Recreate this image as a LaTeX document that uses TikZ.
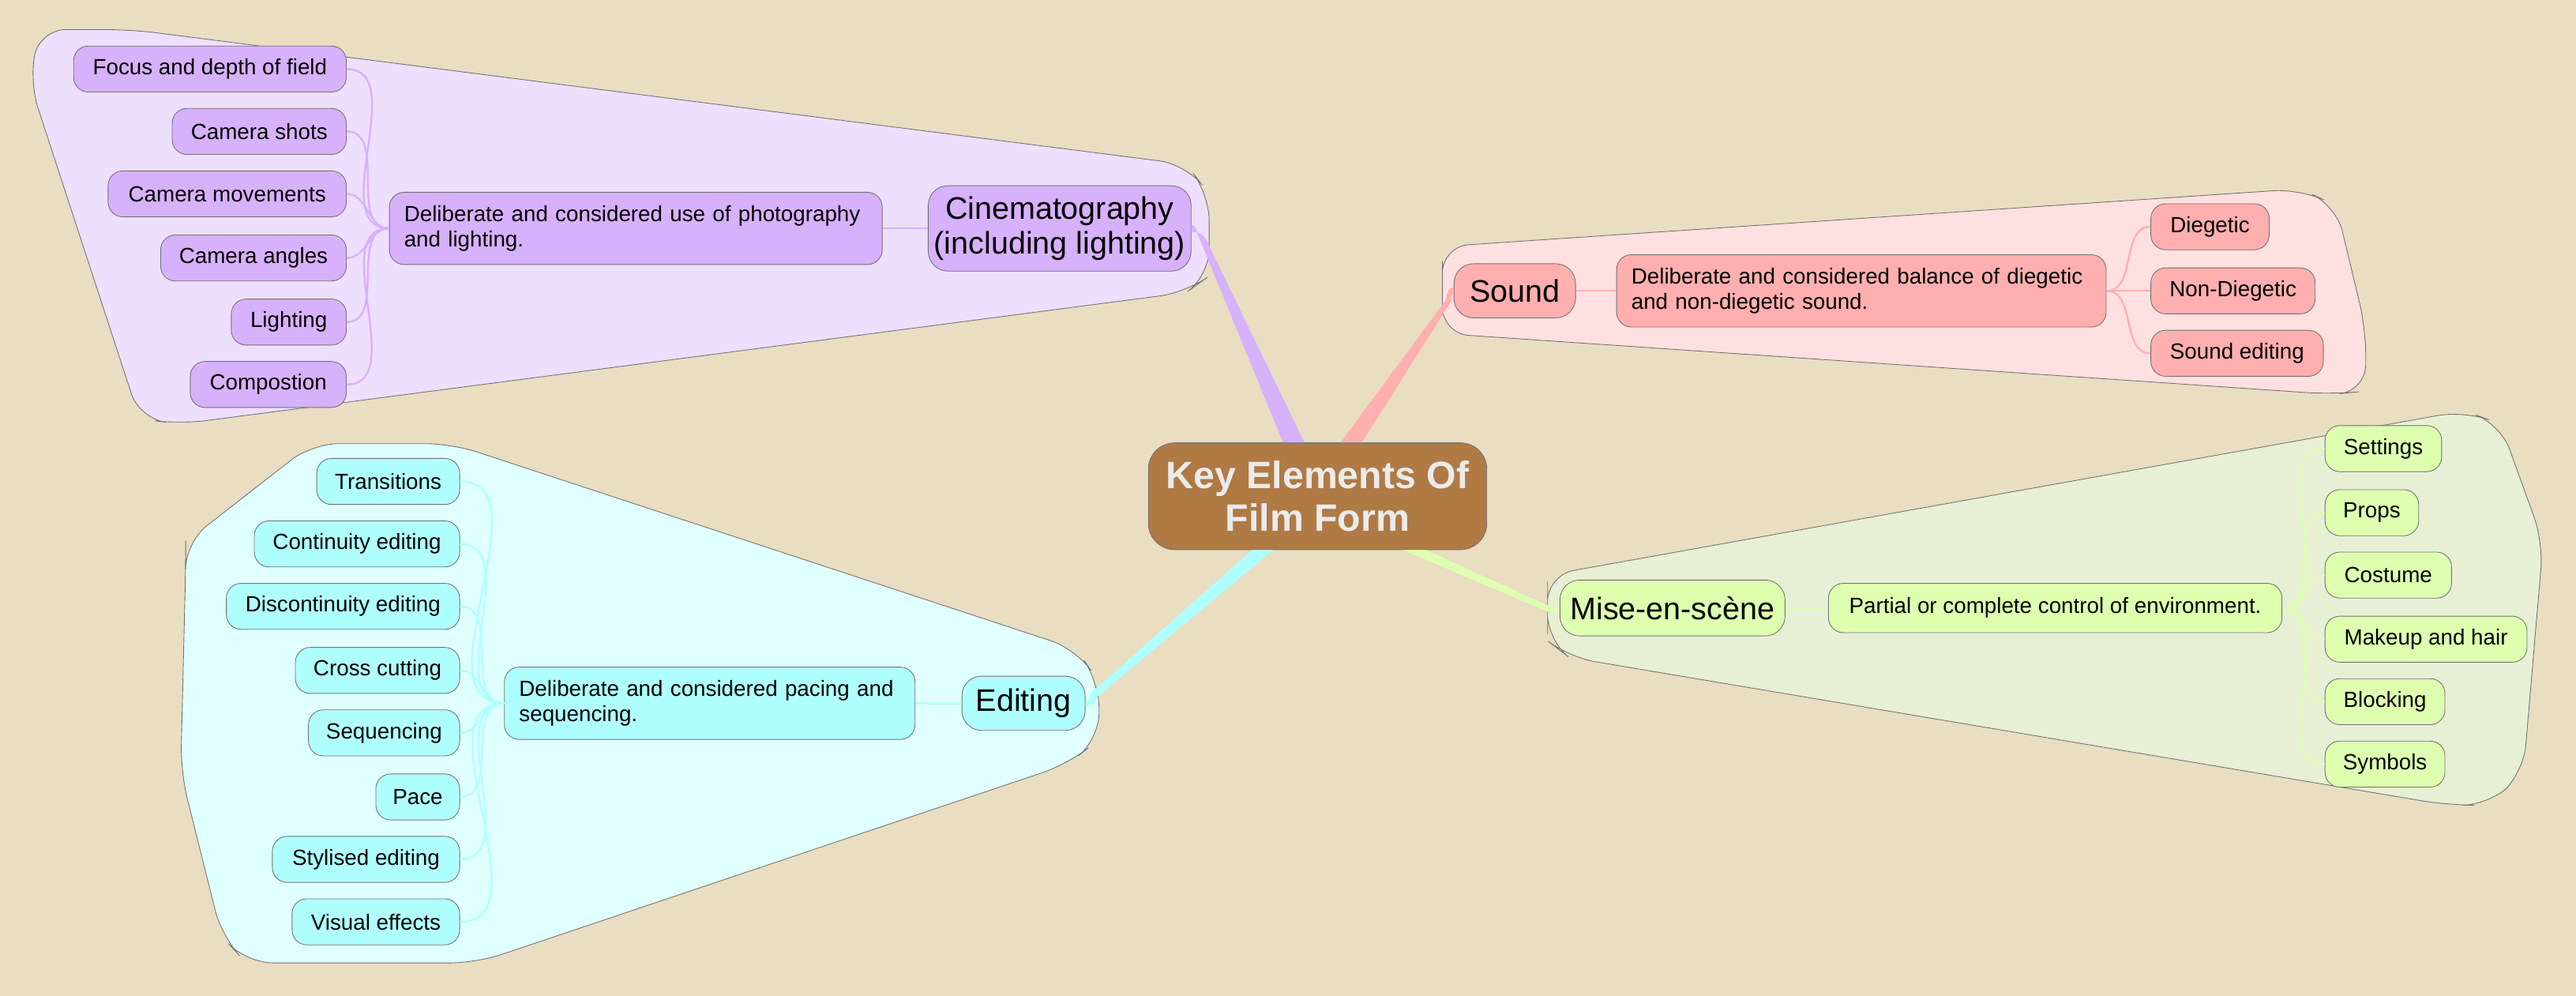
\documentclass[tikz,border=0pt]{standalone}
\usepackage{fontspec}
\setmainfont{Liberation Sans}
\usetikzlibrary{calc}
\definecolor{bg}{HTML}{E9DDC2}
\definecolor{cen}{HTML}{B07A45}
\definecolor{cinN}{HTML}{D7B1FB}\definecolor{cinB}{HTML}{EEDFFF}
\definecolor{sndN}{HTML}{FFAFAF}\definecolor{sndB}{HTML}{FFE0E0}
\definecolor{misN}{HTML}{DEFFB0}\definecolor{misB}{HTML}{E7F0D5}
\definecolor{ediN}{HTML}{B0FFFF}\definecolor{ediB}{HTML}{E0FFFF}
\tikzset{
 base/.style={draw=black!55,line width=0.6pt,rounded corners=0.45cm,inner sep=0pt,font=\fontsize{19}{22}\selectfont,text=black},
 leaf/.style={base,minimum height=1.4cm},
 desc/.style={base,minimum height=2.2cm,align=left,text width=#1,inner xsep=0.45cm},
 branch/.style={base,font=\fontsize{27}{30}\selectfont,align=center,rounded corners=0.6cm},
 bubble/.style={draw=black!55,line width=0.6pt,rounded corners=0.8cm},
 thin/.style={line width=1.6pt},
}
\begin{document}
\hyphenpenalty=10000 \exhyphenpenalty=10000
\begin{tikzpicture}[x=0.05cm,y=-0.05cm]
\fill[bg] (0,0) rectangle (1568,606);
\useasboundingbox (0,0) rectangle (1568,606);
% bubbles
\filldraw[bubble,fill=cinB] (18,50) -- (24,18) -- (80,18) -- (722,100) -- (736,118) -- (736,168) -- (722,178) -- (110,258) -- (85,255) -- cycle;
\filldraw[bubble,fill=sndB] (878,175) -- (878,150) -- (1400,115) -- (1422,125) -- (1440,200) -- (1440,238) -- (1420,240) -- (878,203) -- cycle;
\filldraw[bubble,fill=misB] (942,370) -- (942,350) -- (1500,250) -- (1522,258) -- (1548,330) -- (1536,470) -- (1515,490) -- (1490,490) -- (955,400) -- (942,390) -- cycle;
\filldraw[bubble,fill=ediB] (113,345) -- (113,330) -- (190,270) -- (275,270) -- (655,395) -- (669,415) -- (669,450) -- (650,465) -- (290,586) -- (150,586) -- (135,570) -- (110,470) -- cycle;
% nodes
\node[base,fill=cen,minimum width=10.3cm,minimum height=3.25cm,align=center,font=\bfseries\fontsize{33}{37}\selectfont,text=black!8,rounded corners=0.8cm] (c) at (802,302) {Key Elements Of\\Film Form};
\node[branch,fill=cinN,minimum width=8cm,minimum height=2.6cm] (cin) at (645,139) {Cinematography\\(including lighting)};
\node[desc=14.1cm,fill=cinN] (cind) at (387,139) {Deliberate and considered use of photography and lighting.};
\node[branch,fill=sndN,minimum width=3.7cm,minimum height=1.65cm] (snd) at (922,177) {Sound};
\node[desc=14cm,fill=sndN] (sndd) at (1133,177) {Deliberate and considered balance of diegetic and non-diegetic sound.};
\node[branch,fill=misN,minimum width=6.85cm,minimum height=1.7cm] (mis) at (1018,370) {Mise-en-scène};
\node[base,fill=misN,minimum width=13.8cm,minimum height=1.5cm] (misd) at (1251,370) {Partial or complete control of environment.};
\node[branch,fill=ediN,minimum width=3.75cm,minimum height=1.65cm] (edi) at (623,428) {Editing};
\node[desc=11.6cm,fill=ediN] (edid) at (432,428) {Deliberate and considered pacing and sequencing.};
% tapered main connectors
\fill[cinN] ($(c.north)+(-21,0)$) -- ($(c.north)+(-8,0)$) -- ($(cin.east)+(9,7)$) to[out=120,in=0] ($(cin.east)+(0,2)$) -- ($(cin.east)+(0,-2)$) to[out=0,in=115] ($(cin.east)+(4,4)$) -- cycle;
\fill[sndN] ($(c.north)+(27,0)$) -- ($(c.north)+(14,0)$) -- ($(snd.west)+(-5,6)$) to[out=70,in=180] ($(snd.west)+(0,-2)$) -- ($(snd.west)+(0,2)$) to[out=180,in=70] ($(snd.west)+(-2,7)$) -- cycle;
\fill[misN] ($(c.south)+(52,0)$) -- ($(c.south)+(66,0)$) -- ($(mis.west)+(-6,-1)$) to[out=-20,in=180] ($(mis.west)+(0,-2)$) -- ($(mis.west)+(0,2)$) to[out=180,in=-25] ($(mis.west)+(-8,2)$) -- cycle;
\fill[ediN] ($(c.south)+(-40,0)$) -- ($(c.south)+(-27,0)$) -- ($(edi.east)+(6,-3)$) to[out=-45,in=0] ($(edi.east)+(0,2)$) -- ($(edi.east)+(0,-2)$) to[out=0,in=-45] ($(edi.east)+(3,-6)$) -- cycle;
% leaves
\foreach \t/\y/\w [count=\i] in {Focus and depth of field/42/8.3,Camera shots/80/5.3,Camera movements/118/7.25,Camera angles/157/5.65,Lighting/196/3.5,Compostion/234/4.75}{
 \node[leaf,fill=cinN,minimum width=\w cm,anchor=east] (cl\i) at (211,\y) {\t};
 \draw[thin,cinN] (cind.west) to[out=180,in=0] (cl\i.east);}
\foreach \t/\y/\w [count=\i] in {Diegetic/138/3.6,Non-Diegetic/177/5,Sound editing/215/5.25}{
 \node[leaf,fill=sndN,minimum width=\w cm,anchor=west] (sl\i) at (1309,\y) {\t};
 \draw[thin,sndN] (sndd.east) to[out=0,in=180] (sl\i.west);}
\foreach \t/\y/\w [count=\i] in {Settings/273/3.55,Props/312/2.85,Costume/350/3.85,Makeup and hair/389/6.15,Blocking/427/3.65,Symbols/465/3.65}{
 \node[leaf,fill=misN,minimum width=\w cm,anchor=west] (ml\i) at (1415,\y) {\t};
 \draw[thin,misN] (misd.east) to[out=0,in=180] (ml\i.west);}
\foreach \t/\y/\w [count=\i] in {Transitions/293/4.35,Continuity editing/331/6.25,Discontinuity editing/369/7.1,Cross cutting/408/5,Sequencing/446/4.6,Pace/485/2.55,Stylised editing/523/5.7,Visual effects/561/5.1}{
 \node[leaf,fill=ediN,minimum width=\w cm,anchor=east] (el\i) at (280,\y) {\t};
 \draw[thin,ediN] (edid.west) to[out=180,in=0] (el\i.east);}
% branch-desc links
\draw[thin,cinN] (cin.west) -- (cind.east);
\draw[thin,sndN] (snd.east) -- (sndd.west);
\draw[thin,misN] (mis.east) -- (misd.west);
\draw[thin,ediN] (edi.west) -- (edid.east);
\end{tikzpicture}
\end{document}
